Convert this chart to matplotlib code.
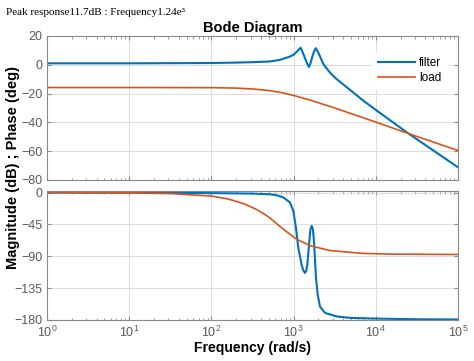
import numpy as np
import matplotlib
matplotlib.use('Agg')
import matplotlib.pyplot as plt

plt.rcParams['font.family'] = ['Liberation Sans', 'DejaVu Sans']

# ── data (log10 of frequency in rad/s) ──────────────────────────────────────
filter_mag_logw = [0, 1, 2, 2.3, 2.5, 2.713, 2.835, 2.956, 3.0, 3.038, 3.07, 3.086,
                   3.11, 3.139, 3.165, 3.187, 3.205, 3.228, 3.25, 3.269, 3.30,
                   3.362, 3.443, 3.524, 3.686, 3.85, 4.05, 4.376, 4.7, 5.0]
filter_mag_db = [1.0, 1.0, 1.2, 1.5, 1.8, 2.3, 3.4, 5.7, 7.0, 9.0, 10.9, 11.8,
                 8.8, 4.5, 0.8, -1.5, 0.8, 5.7, 9.5, 11.5, 8.5,
                 0.5, -5.5, -10.0, -17.4, -25.0, -33.4, -46.9, -59.5, -71.2]

load_mag_logw = [0, 1, 2, 2.3, 2.5, 2.7, 2.85, 3.0, 3.2, 3.5, 4.0, 4.5, 5.0]
load_mag_db = [-15.8, -15.8, -15.9, -16.2, -16.8, -17.9, -19.3, -21.3, -24.5,
               -30.0, -39.8, -49.8, -59.5]

filter_ph_logw = [0, 1, 2, 2.5, 2.713, 2.8, 2.875, 2.956, 2.997, 3.029, 3.057,
                  3.098, 3.118, 3.139, 3.155, 3.167, 3.191, 3.205, 3.22, 3.235,
                  3.248, 3.272, 3.293, 3.321, 3.382, 3.524, 3.686, 4.0, 4.5, 5.0]
filter_ph_deg = [0, -0.2, -0.8, -1.5, -2.5, -4, -7, -14, -26, -50, -78,
                 -102, -110, -113.5, -110, -102, -69, -52, -47, -52,
                 -69, -120, -144, -161, -170, -175, -177, -178, -179, -179.3]

load_ph_logw = [0, 1, 1.5, 2.0, 2.2, 2.4, 2.55, 2.631, 2.713, 2.8, 2.9, 3.038,
                3.2, 3.443, 3.848, 4.2, 5.0]
load_ph_deg = [0, -0.5, -1.5, -5, -9, -16, -24, -29.5, -36, -44.5, -54, -66,
               -75, -82, -86, -87, -87.5]

blue = '#0072BD'
red = '#D95319'
tick_c = '#5a5a5a'
spine_c = '#8a8a8a'

fig = plt.figure(figsize=(4.74, 3.61), dpi=100)
ax1 = fig.add_axes([0.0992, 0.5014, 0.867, 0.399])
ax2 = fig.add_axes([0.0992, 0.1136, 0.867, 0.357])

w = lambda lw: 10.0 ** np.array(lw)

ax1.plot(w(filter_mag_logw), filter_mag_db, color=blue, lw=1.5, label='filter')
ax1.plot(w(load_mag_logw), load_mag_db, color=red, lw=1.2, label='load')
ax2.plot(w(filter_ph_logw), filter_ph_deg, color=blue, lw=1.5)
ax2.plot(w(load_ph_logw), load_ph_deg, color=red, lw=1.2)

for ax in (ax1, ax2):
    ax.set_xscale('log')
    ax.set_xlim(1, 1e5)
    ax.grid(True, which='major', color='#dcdcdc', lw=0.7)
    ax.set_axisbelow(True)
    ax.tick_params(which='both', direction='in', top=True, right=True,
                   colors=spine_c, labelcolor=tick_c, labelsize=9)
    ax.tick_params(which='major', length=3)
    ax.tick_params(which='minor', length=1.8)
    for s in ax.spines.values():
        s.set_color(spine_c)
        s.set_linewidth(0.8)

ax1.set_ylim(-80, 20)
ax1.set_yticks([-80, -60, -40, -20, 0, 20])
ax1.tick_params(labelbottom=False)
ax2.set_ylim(-180, 2)
ax2.set_yticks([-180, -135, -90, -45, 0])
ax2.set_xticks([1, 10, 100, 1e3, 1e4, 1e5])

ax1.legend(loc='upper right', bbox_to_anchor=(0.985, 0.93), fontsize=8.5,
           handlelength=3.2, handletextpad=0.3, labelspacing=0.3,
           frameon=True, facecolor='white', edgecolor='white', framealpha=1)

ax1.set_title('Bode Diagram', fontsize=10.5, fontweight='bold', pad=3)
ax2.set_xlabel('Frequency (rad/s)', fontsize=10, fontweight='bold', labelpad=1)
fig.text(0.027, 0.537, 'Magnitude (dB) ; Phase (deg)', rotation=90,
         ha='center', va='center', fontsize=10.5, fontweight='bold')
fig.text(0.013, 0.965, 'Peak response11.7dB : Frequency1.24e\u00b3',
         family=['Liberation Serif', 'DejaVu Serif'], fontsize=8,
         ha='left', va='center')

fig.savefig('out.png', dpi=100)
